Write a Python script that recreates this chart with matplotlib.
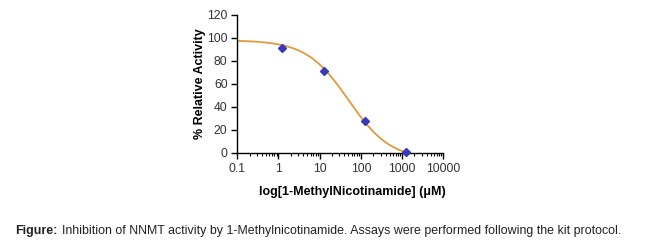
import numpy as np
import matplotlib
matplotlib.use("Agg")
import matplotlib.pyplot as plt
from matplotlib.ticker import LogLocator, NullFormatter, FixedLocator, FixedFormatter

# data
conc_uM = [1.25, 12.5, 125, 1250]
activity = [91, 71, 28, 1]
x_ticks = [0.1, 1, 10, 100, 1000, 10000]
x_tick_labels = ["0.1", "1", "10", "100", "1000", "10000"]
y_ticks = [0, 20, 40, 60, 80, 100, 120]

# fitted 4-parameter logistic
fit_top = 98.0
fit_bottom = -6.0
fit_ic50 = 50.0
fit_hill = 0.85
fit_range = (0.1, 1300)

plt.rcParams['font.family'] = ['Liberation Sans', 'DejaVu Sans']

fig = plt.figure(figsize=(6.5, 2.45), dpi=100)
ax = fig.add_axes([0.365, 0.376, 0.317, 0.563])

xs = np.logspace(np.log10(fit_range[0]), np.log10(fit_range[1]), 300)
ys = fit_bottom + (fit_top - fit_bottom) / (1 + (xs / fit_ic50) ** fit_hill)
ax.plot(xs, ys, color='#E39A3E', lw=1.3, zorder=2)
ax.plot(conc_uM, activity, linestyle='none', marker='D', ms=4.5,
        color='#3A3AB8', zorder=3, clip_on=False)

ax.set_xscale('log')
ax.set_xlim(0.1, 10000)
ax.set_ylim(0, 120)
ax.xaxis.set_major_locator(FixedLocator(x_ticks))
ax.xaxis.set_major_formatter(FixedFormatter(x_tick_labels))
ax.xaxis.set_minor_locator(LogLocator(base=10, subs=np.arange(2, 10)))
ax.xaxis.set_minor_formatter(NullFormatter())
ax.set_yticks(y_ticks)

for s in ['top', 'right']:
    ax.spines[s].set_visible(False)
for s in ['left', 'bottom']:
    ax.spines[s].set_linewidth(1.0)
ax.tick_params(axis='both', which='major', length=4, width=1, labelsize=8.8,
               colors='black', labelcolor='#333333', direction='out', pad=3)
ax.tick_params(axis='x', which='minor', length=2, width=0.8, direction='out')
ax.tick_params(axis='x', which='major', pad=3)

ax.set_xlabel('log[1-MethylNicotinamide] (μM)', fontsize=9, fontweight='bold')
ax.xaxis.set_label_coords(0.56, -0.24)
ax.set_ylabel('% Relative Activity', fontsize=9, fontweight='bold', labelpad=1)

fig.text(0.023, 0.045, 'Figure:', fontsize=9, fontweight='bold', color='#222222')
fig.text(0.095, 0.045, 'Inhibition of NNMT activity by 1-Methylnicotinamide. Assays were performed following the kit protocol.',
         fontsize=8.95, color='#222222')

fig.savefig('out.png', dpi=100)
